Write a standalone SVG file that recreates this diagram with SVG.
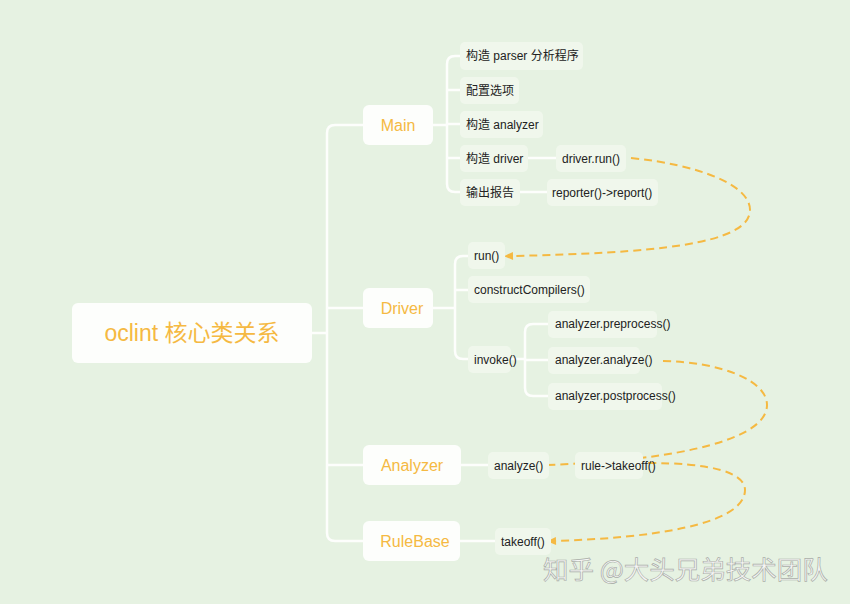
<svg xmlns="http://www.w3.org/2000/svg" width="850" height="604" viewBox="0 0 850 604">
<defs>
<style>
.n{fill:#fdfefc}
.l{fill:#f0f7ec}
.t{font-family:"Liberation Sans","Noto Sans CJK SC",sans-serif;font-size:12px;fill:#222}
.h{font-family:"Liberation Sans","Noto Sans CJK SC",sans-serif;font-size:16px;fill:#f5b942;text-anchor:middle}
.c{fill:none;stroke:#fdfefc;stroke-width:2.5}
.d{fill:none;stroke:#f5b942;stroke-width:2;stroke-dasharray:8 5}
</style>
<marker id="a" markerWidth="10" markerHeight="10" refX="2" refY="5" orient="auto" markerUnits="userSpaceOnUse"><path d="M10,1 L1,5 L10,9 Z" fill="#f5b942" transform="rotate(180 5.5 5)"/></marker>
</defs>
<rect width="850" height="604" fill="#e6f2e2"/>
<g id="connectors">
<path class="c" d="M312,333 H327 M363,125 H335 Q327,125 327,133 V533 Q327,541 335,541 H363 M327,308 H363 M327,465 H363"/>
<path class="c" d="M433,125 H447 M460,56 H455 Q447,56 447,64 V184 Q447,192 455,192 H460 M447,90 H460 M447,124 H460 M447,158 H460 M528,158 H556 M520,192 H547"/>
<path class="c" d="M433,308 H455 M468,256 H463 Q455,256 455,264 V351 Q455,359 463,359 H468 M455,290 H468 M511,359 H525 M548,324 H533 Q525,324 525,332 V388 Q525,396 533,396 H548 M525,360 H548"/>
<path class="c" d="M461,465 H488 M460,541 H495"/>
<path class="d" d="M631,158 C700,165 750,185 750,210 C750,245 650,253 512,256" marker-end="url(#a)"/>
<path class="d" d="M663,361 C720,362 767,380 767,405 C767,445 650,462 544,465" marker-end="url(#a)"/>
<path class="d" d="M648,463 C710,463 745,472 745,490 C745,525 650,538 555,541" marker-end="url(#a)"/>
</g>
<g id="root"><rect class="n" x="72" y="303" width="240" height="60" rx="6"/><text class="h" x="192" y="341" style="font-size:23px">oclint 核心类关系</text></g>
<g id="main"><rect class="n" x="363" y="105" width="70" height="40" rx="6"/><text class="h" x="398" y="131">Main</text></g>
<g id="driver"><rect class="n" x="363" y="288" width="70" height="40" rx="6"/><text class="h" x="402" y="314">Driver</text></g>
<g id="analyzer"><rect class="n" x="363" y="445" width="98" height="40" rx="6"/><text class="h" x="412" y="471">Analyzer</text></g>
<g id="rulebase"><rect class="n" x="363" y="521" width="97" height="40" rx="6"/><text class="h" x="415" y="547">RuleBase</text></g>
<g id="m1"><rect class="l" x="460" y="42" width="123" height="28" rx="5"/><text class="t" x="466" y="60">构造 parser 分析程序</text></g>
<g id="m2"><rect class="l" x="460" y="77" width="59" height="27" rx="5"/><text class="t" x="466" y="95">配置选项</text></g>
<g id="m3"><rect class="l" x="460" y="111" width="83" height="27" rx="5"/><text class="t" x="466" y="129">构造 analyzer</text></g>
<g id="m4"><rect class="l" x="460" y="145" width="68" height="27" rx="5"/><text class="t" x="466" y="163">构造 driver</text></g>
<g id="m5"><rect class="l" x="460" y="179" width="60" height="27" rx="5"/><text class="t" x="466" y="197">输出报告</text></g>
<g id="m4a"><rect class="l" x="556" y="145" width="70" height="27" rx="5"/><text class="t" x="562" y="163">driver.run()</text></g>
<g id="m5a"><rect class="l" x="547" y="179" width="111" height="27" rx="5"/><text class="t" x="552" y="197">reporter()-&gt;report()</text></g>
<g id="d1"><rect class="l" x="468" y="242" width="37" height="27" rx="5"/><text class="t" x="474" y="260">run()</text></g>
<g id="d2"><rect class="l" x="468" y="276" width="122" height="27" rx="5"/><text class="t" x="474" y="294">constructCompilers()</text></g>
<g id="d3"><rect class="l" x="468" y="346" width="43" height="27" rx="5"/><text class="t" x="474" y="364">invoke()</text></g>
<g id="d3a"><rect class="l" x="548" y="311" width="109" height="27" rx="5"/><text class="t" x="555" y="328">analyzer.preprocess()</text></g>
<g id="d3b"><rect class="l" x="548" y="347" width="92" height="27" rx="5"/><text class="t" x="555" y="364">analyzer.analyze()</text></g>
<g id="d3c"><rect class="l" x="548" y="383" width="114" height="27" rx="5"/><text class="t" x="555" y="400">analyzer.postprocess()</text></g>
<g id="a1"><rect class="l" x="488" y="452" width="61" height="27" rx="5"/><text class="t" x="494" y="470">analyze()</text></g>
<g id="a2"><rect class="l" x="575" y="452" width="68" height="27" rx="5"/><text class="t" x="581" y="470">rule-&gt;takeoff()</text></g>
<g id="r1"><rect class="l" x="495" y="528" width="56" height="27" rx="5"/><text class="t" x="501" y="546">takeoff()</text></g>
<text x="543" y="579" style="font-family:'Noto Sans CJK SC',sans-serif;font-size:25.5px;fill:#f6f6f6;stroke:#a9aea7;stroke-width:0.7">知乎 @大头兄弟技术团队</text>
</svg>
